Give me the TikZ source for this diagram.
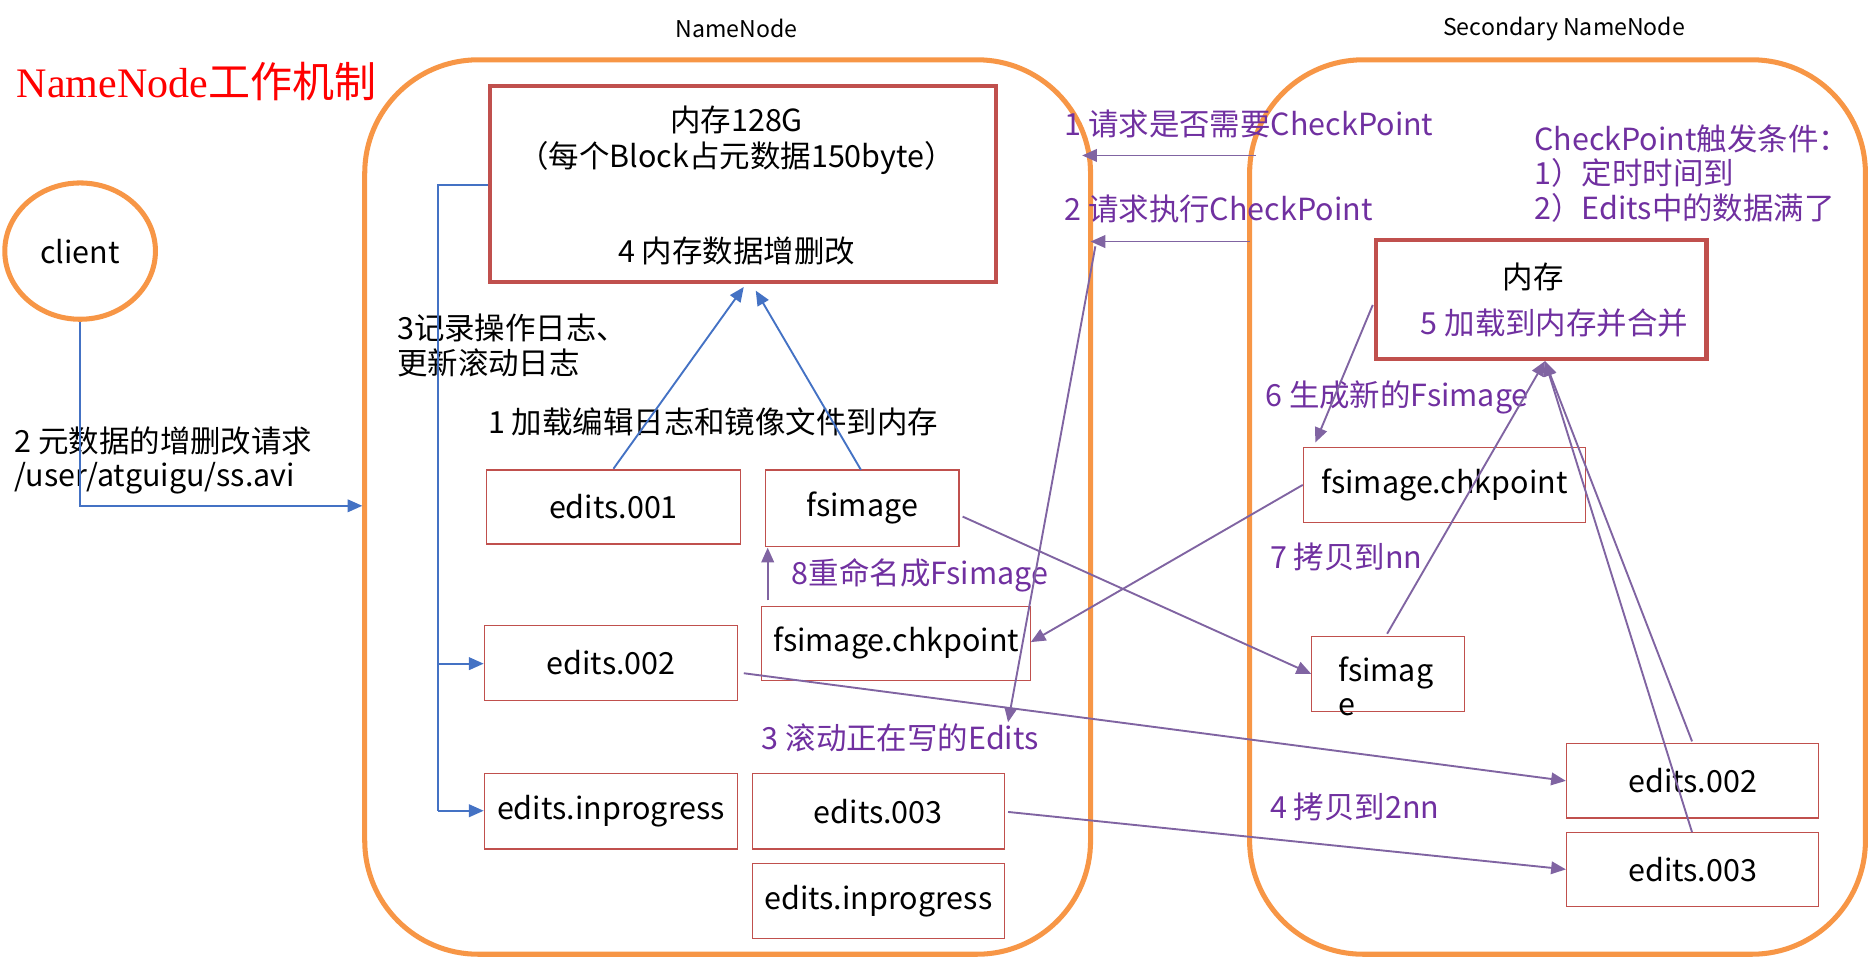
\documentclass[tikz,border=0pt]{standalone}
\usepackage{fontspec}
\setmainfont{Noto Sans CJK SC}
\newfontfamily\tserif{Liberation Serif}
\usetikzlibrary{arrows.meta,shapes.geometric}
\definecolor{nnorange}{HTML}{F79646}
\definecolor{boxred}{HTML}{C0504D}
\definecolor{txtpurple}{HTML}{7030A0}
\definecolor{lnpurple}{HTML}{8064A2}
\definecolor{lnblue}{HTML}{4472C4}
\tikzset{
  box/.style={draw=boxred, line width=0.6pt, inner sep=0pt},
  membox/.style={draw=boxred, line width=2pt, inner sep=0pt},
  frame/.style={draw=nnorange, line width=2.4pt, rounded corners=1.9cm},
  lbl/.style={font=\fontsize{14.5}{16.5}\selectfont, inner sep=1pt},
  plbl/.style={lbl, text=txtpurple},
  parr/.style={draw=lnpurple, line width=0.9pt, -{Triangle[length=7pt,width=6pt]}},
  barr/.style={draw=lnblue, line width=0.9pt, -{Triangle[length=7pt,width=6pt]}},
}
\newcommand{\bx}[7]{\node[#1, minimum width={(#5-#3)*0.02cm}, minimum height={(#6-#4)*0.02cm}, lbl] (#2) at ({(#3+#5)/2},{(#4+#6)/2}) {#7};}
\begin{document}
\begin{tikzpicture}[x=0.02cm, y=-0.02cm]
\useasboundingbox (0,0) rectangle (1568,803);
% headers
\node[font=\fontsize{20}{24}\selectfont, text=red, anchor=west] (title) at (8,68) {{\tserif NameNode}工作机制};
\node[font=\fontsize{11}{13}\selectfont] (hnn) at (616,24) {NameNode};
\node[font=\fontsize{11}{13}\selectfont] (hsnn) at (1308,24) {Secondary NameNode};
% frames
\draw[frame] (305,50) rectangle (912,798);
\draw[frame] (1045,50) rectangle (1560,798);
\node[draw=nnorange, line width=2.4pt, ellipse, minimum width={126*0.02cm}, minimum height={114*0.02cm}, lbl] (client) at (67,210) {client};
% NameNode boxes
\node[membox, minimum width={423*0.02cm}, minimum height={164*0.02cm}] (mem) at (621.5,154) {};
\node[lbl] (memt1) at (616,100) {内存128G};
\node[lbl] (memt2) at (616,132) {（每个Block占元数据150byte）};
\node[lbl] (memt3) at (616,210) {4 内存数据增删改};
\bx{box}{e001}{407}{393}{619}{455}{edits.001\hspace{1.2em}}
\bx{box}{fsi}{640}{393}{802}{457}{fsimage\hspace{1.5em}}
\bx{box}{fck}{637}{507}{862}{569}{fsimage.chkpoint}
\bx{box}{e002}{405}{523}{617}{586}{edits.002\hspace{1.2em}}
\bx{box}{einp}{405}{647}{617}{710}{edits.inprogress}
\bx{box}{e003}{629}{647}{840}{710}{edits.003\hspace{1em}}
\bx{box}{einp2}{629}{722}{840}{785}{edits.inprogress}
% Secondary boxes
\node[membox, minimum width={276*0.02cm}, minimum height={99*0.02cm}] (smem) at (1289,250.5) {};
\node[lbl] (smemt1) at (1282,232) {内存};
\node[plbl] (smemt2) at (1300,270) {5 加载到内存并合并};
\bx{box}{sfck}{1090}{374}{1326}{437}{fsimage.chkpoint}
\node[box, minimum width={128*0.02cm}, minimum height={63*0.02cm}] (sfsi) at (1161,563.5) {};
\node[lbl, align=left, anchor=north west] (sfsit) at (1117,547) {fsimag\\e};
\bx{box}{se002}{1310}{622}{1521}{684}{edits.002\hspace{1em}}
\bx{box}{se003}{1310}{696}{1521}{758}{edits.003\hspace{1em}}
% labels
\node[plbl, anchor=west, align=left] (cond) at (1281,145) {CheckPoint触发条件：\\1）定时时间到\\2）Edits中的数据满了};
\node[plbl, anchor=west] (q1) at (888,104) {1 请求是否需要CheckPoint};
\node[plbl, anchor=west] (q2) at (888,175) {2 请求执行CheckPoint};
\node[plbl, anchor=west] (roll) at (635,617) {3 滚动正在写的Edits};
\node[plbl, anchor=west] (ren) at (660,481) {8重命名成Fsimage};
\node[plbl, anchor=west] (cp7) at (1060,466) {7 拷贝到nn};
\node[plbl, anchor=west] (cp4) at (1060,675) {4 拷贝到2nn};
\node[plbl, anchor=west] (gen) at (1056,332) {6 生成新的Fsimage};
\node[lbl, anchor=west, align=left] (log) at (330,289) {3记录操作日志、\\更新滚动日志};
\node[lbl, anchor=west] (load) at (406,353) {1 加载编辑日志和镜像文件到内存};
\node[lbl, anchor=west, align=left] (req) at (10,385) {2 元数据的增删改请求\\/user/atguigu/ss.avi};
% client request
\coordinate (nnin) at (303,423);
\draw[barr] (client.south) |- (nnin);
% log bracket
\coordinate (brk) at (366,155);
\draw[lnblue, line width=0.9pt] (mem.west |- brk) -- (brk) -- (366,678);
\draw[barr] (366,555) -- (e002.west |- 0,555);
\draw[barr] (366,678) -- (einp.west |- 0,678);
% load to memory
\draw[barr] (513,392) -- (622,240);
\draw[barr] (720,393) -- (632,243);
% checkpoint requests
\coordinate (q1s) at (1050,130);
\coordinate (q1e) at (905,130);
\coordinate (q2s) at (1045,202);
\coordinate (q2e) at (912,202);
\draw[parr] (q1s) -- (q1e);
\draw[parr] (q2s) -- (q2e);
\draw[parr] (916,206) -- (843,604);
% rename
\draw[parr] (642,502) -- (642,458);
% copies
\draw[parr] (805,432) -- (sfsi.west);
\draw[parr] (sfck.west) -- (862,537);
\draw[parr] (622,563) -- (se002.west);
\draw[parr] (843,679) -- (se003.west);
% merge
\coordinate (mt) at (1292,302);
\draw[parr] (1160,530) -- (mt);
\draw[parr] (1415,620) -- (mt);
\draw[parr] (1415,696) -- (mt);
\draw[parr] (1148,255) -- (1100,370);
\end{tikzpicture}
\end{document}
